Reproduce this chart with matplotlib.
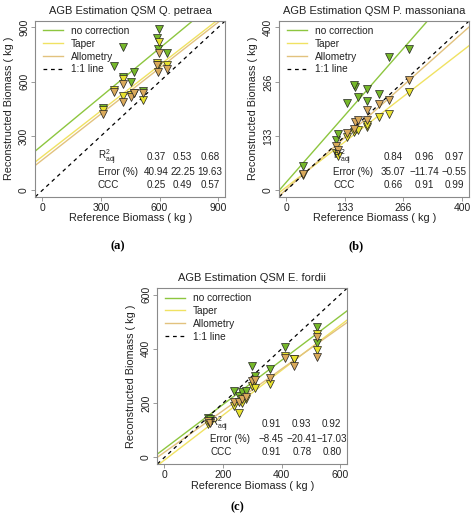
import matplotlib
matplotlib.use("Agg")
import matplotlib.pyplot as plt
from matplotlib.lines import Line2D

plt.rcParams['font.family'] = ['Liberation Sans', 'DejaVu Sans']
plt.rcParams['mathtext.fontset'] = 'custom'
plt.rcParams['mathtext.rm'] = 'Liberation Sans'
plt.rcParams['mathtext.it'] = 'Liberation Sans:italic'

# ---------------- data ----------------
titles = ["AGB Estimation QSM Q. petraea",
          "AGB Estimation QSM P. massoniana",
          "AGB Estimation QSM E. fordii"]
panel_tags = ["(a)", "(b)", "(c)"]
axis_max = [900, 400, 600]
ticks_a = [0, 300, 600, 900]
ticks_b = [0, 133, 266, 400]
ticks_c = [0, 200, 400, 600]
series_names = ["no correction", "Taper", "Allometry"]

# panel (a)
ref_a   = [312, 367, 411, 414, 454, 470, 516, 585, 597, 593, 636]
noc_a   = [457, 688, 789, 623, 599, 651, 549, 839, 890, 780, 760]
taper_a = [446, 555, 612, 520, 525, 540, 498, 704, 820, 690, 690]
allo_a  = [420, 544, 586, 488, 516, 538, 535, 691, 756, 654, 668]

# panel (b)
ref_b   = [37, 112, 118, 139, 156, 154, 164, 183, 184, 210, 233, 280]
noc_b   = [60, 123, 138, 214, 253, 259, 230, 249, 219, 237, 326, 347]
taper_b = [38, 92, 85, 132, 148, 143, 148, 155, 160, 181, 187, 242]
allo_b  = [41, 108, 100, 140, 168, 150, 172, 197, 172, 212, 222, 271]

# panel (c)
ref_c   = [150, 157, 236, 255, 266, 280, 300, 310, 362, 412, 443, 522, 520]
noc_c   = [147, 140, 243, 228, 240, 246, 337, 300, 325, 405, 362, 481, 420]
taper_c = [125, 130, 190, 165, 200, 215, 265, 255, 270, 375, 361, 455, 395]
allo_c  = [135, 128, 206, 205, 215, 222, 280, 285, 292, 365, 337, 445, 371]

# fitted lines (intercept, slope) for no correction, taper, allometry
fit_a = [(249, 0.893), (187, 0.840), (168, 0.845)]
fit_b = [(20, 1.233), (8, 0.835), (2, 0.960)]
fit_c = [(32, 0.815), (-10, 0.828), (19, 0.767)]

# statistics table
stats_rows = ["$\\mathrm{R}^2_{\\mathrm{adj}}$", "Error (%)", "CCC"]
stats_a = [["0.37", "0.53", "0.68"], ["40.94", "22.25", "19.63"], ["0.25", "0.49", "0.57"]]
stats_b = [["0.84", "0.96", "0.97"], ["35.07", "\u221211.74", "\u22120.55"], ["0.66", "0.91", "0.99"]]
stats_c = [["0.91", "0.93", "0.92"], ["\u22128.45", "\u221220.41", "\u221217.03"], ["0.91", "0.78", "0.80"]]

# ---------------- style ----------------
line_colors = ["#8DC63F", "#F0E262", "#E2C27E"]
fill_colors = ["#76B82A", "#E8E22E", "#D9A95B"]
box_col = "#8a8a8a"
W, H = 474, 520

fig = plt.figure(figsize=(W / 100, H / 100), dpi=100)

panels = [
    dict(rect=[35.3, 20.8], ref=ref_a, ys=[noc_a, taper_a, allo_a], fit=fit_a,
         ticks=ticks_a, stats=stats_a, tag_xy=(118, 246),
         lab_x=0.33, col_x=[0.635, 0.775, 0.919]),
    dict(rect=[279.3, 20.8], ref=ref_b, ys=[noc_b, taper_b, allo_b], fit=fit_b,
         ticks=ticks_b, stats=stats_b, tag_xy=(356, 246),
         lab_x=0.285, col_x=[0.60, 0.762, 0.922]),
    dict(rect=[157.3, 288.0], ref=ref_c, ys=[noc_c, taper_c, allo_c], fit=fit_c,
         ticks=ticks_c, stats=stats_c, tag_xy=(237, 507),
         lab_x=0.28, col_x=[0.598, 0.76, 0.918]),
]

for i, p in enumerate(panels):
    left, top = p["rect"]
    aw, ah = 190, 176
    ax = fig.add_axes([left / W, 1 - (top + ah) / H, aw / W, ah / H])
    m = axis_max[i]
    pad = 0.04 * m
    ax.set_xlim(-pad, m + pad)
    ax.set_ylim(-pad, m + pad)

    handles = []
    for k in range(3):
        a, b = p["fit"][k]
        ax.axline((0, a), slope=b, color=line_colors[k], lw=1.0, zorder=2)
        handles.append(Line2D([], [], color=line_colors[k], lw=1.0))
    ax.axline((0, 0), slope=1, color="black", lw=0.9, ls=(0, (3, 3)), zorder=2)
    handles.append(Line2D([], [], color="black", lw=0.9, ls=(0, (3, 3))))

    for k in range(3):
        ax.plot(p["ref"], p["ys"][k], ls="none", marker="v", markersize=5.8,
                markerfacecolor=fill_colors[k], markeredgecolor="#222222",
                markeredgewidth=0.5, zorder=3)

    ax.set_xticks(p["ticks"])
    ax.set_yticks(p["ticks"])
    ax.set_xticklabels([str(t) for t in p["ticks"]])
    ax.set_yticklabels([str(t) for t in p["ticks"]], rotation=90, va="center")
    ax.tick_params(axis="both", direction="out", length=3, width=0.6,
                   color=box_col, labelsize=7.5, labelcolor="#222222")
    ax.tick_params(axis="x", pad=1.5)
    ax.tick_params(axis="y", pad=1.5)
    for s in ax.spines.values():
        s.set_color(box_col)
        s.set_linewidth(0.8)

    ax.set_xlabel("Reference Biomass ( kg )", fontsize=7.8, labelpad=0.3, color="#222222")
    ax.set_ylabel("Reconstructed Biomass ( kg )", fontsize=7.8, labelpad=3.5, color="#222222")
    ax.set_title(titles[i], fontsize=8, pad=5, color="#222222")

    leg = ax.legend(handles, series_names + ["1:1 line"], loc="upper left",
                    bbox_to_anchor=(0.015, 1.0),
                    frameon=False, fontsize=7.3, handlelength=2.0,
                    handletextpad=0.75, labelspacing=0.28, borderaxespad=0.2,
                    borderpad=0.3)
    for t in leg.get_texts():
        t.set_color("#222222")

    row_y = [0.227, 0.143, 0.068]
    for r in range(3):
        ax.text(p["lab_x"], row_y[r], stats_rows[r], transform=ax.transAxes,
                fontsize=7.1, ha="left", va="center", color="#222222")
        for c in range(3):
            ax.text(p["col_x"][c], row_y[r], p["stats"][r][c], transform=ax.transAxes,
                    fontsize=7.1, ha="center", va="center", color="#222222")

    fig.text(p["tag_xy"][0] / W, 1 - p["tag_xy"][1] / H, panel_tags[i],
             fontsize=9, fontweight="bold", family="Liberation Serif",
             ha="center", va="center")

fig.savefig("out.png", dpi=100)
